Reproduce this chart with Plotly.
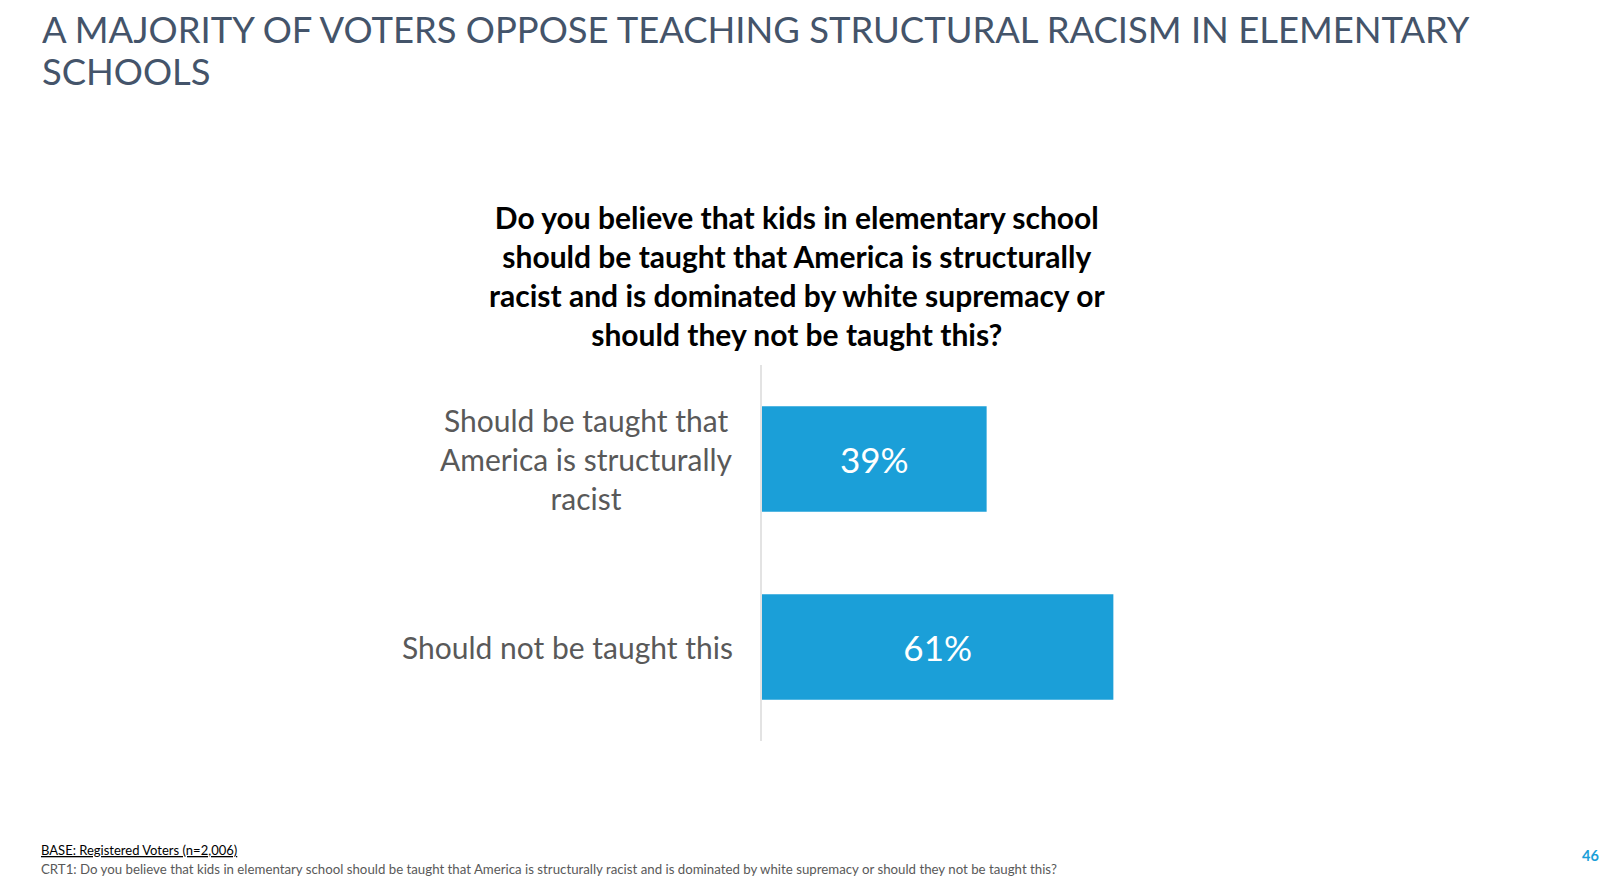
import plotly.graph_objects as go

categories = ["Should be taught that<br>America is structurally<br>racist", "Should not be taught this"]
values = [39, 61]
value_labels = ["39%", "61%"]

title_line1 = "A MAJORITY OF VOTERS OPPOSE TEACHING STRUCTURAL RACISM IN ELEMENTARY"
title_line2 = "SCHOOLS"
question_text = ("Do you believe that kids in elementary school<br>should be taught that America is structurally<br>"
                 "racist and is dominated by white supremacy or<br>should they not be taught this?")
base_text = "BASE: Registered Voters (n=2,006)"
crt_text = ("CRT1: Do you believe that kids in elementary school should be taught that America is structurally racist "
            "and is dominated by white supremacy or should they not be taught this?")
page_num = "46"

FONT = "Lato, 'Open Sans', sans-serif"
BAR = "#1B9FD8"

# page has an 8px body margin; figure fills the rest of the window
OFF = 8
W, H = 1614 - OFF, 882 - OFF


def fx(px):
    return (px - OFF) / W


def fy(py):
    return 1 - (py - OFF) / H


fig = go.Figure(go.Bar(
    y=categories, x=values, orientation="h",
    marker=dict(color=BAR, line=dict(width=0)),
    text=value_labels, textposition="inside", insidetextanchor="middle",
    textfont=dict(family=FONT, size=35, color="white"),
    hoverinfo="skip",
))

fig.update_layout(
    width=W, height=H,
    margin=dict(l=0, r=0, t=0, b=0),
    paper_bgcolor="white", plot_bgcolor="white",
    bargap=0.44, showlegend=False,
    font=dict(family=FONT),
    xaxis=dict(domain=[fx(762), fx(1338)], range=[0, 100], visible=False, fixedrange=True),
    yaxis=dict(domain=[fy(741), fy(365)], autorange="reversed", showticklabels=False, showgrid=False,
               showline=True, linecolor="#E3E3E3", linewidth=2, ticks="", zeroline=False),
)

for cat in categories:
    fig.add_annotation(x=fx(762), xref="paper", y=cat, yref="y", xanchor="right", yanchor="middle",
                       xshift=-27, text=cat, showarrow=False, align="center",
                       font=dict(family=FONT, size=30, color="#595959"))

fig.add_annotation(x=fx(40), y=fy(29), xref="paper", yref="paper", xanchor="left", yanchor="middle",
                   text=title_line1, showarrow=False, align="left", height=38, valign="middle",
                   font=dict(family=FONT, size=36.4, color="#44546A"))
fig.add_annotation(x=fx(40), y=fy(71.5), xref="paper", yref="paper", xanchor="left", yanchor="middle",
                   text=title_line2, showarrow=False, align="left", height=38, valign="middle",
                   font=dict(family=FONT, size=36.4, color="#44546A"))
fig.add_annotation(x=fx(797), y=fy(275), xref="paper", yref="paper", xanchor="center", yanchor="middle",
                   text="<b>" + question_text + "</b>", showarrow=False, align="center",
                   font=dict(family=FONT, size=30, color="black"))
fig.add_annotation(x=fx(39), y=fy(850), xref="paper", yref="paper", xanchor="left", yanchor="middle",
                   text="<u>" + base_text + "</u>", showarrow=False, align="left",
                   font=dict(family=FONT, size=13, color="black"))
fig.add_annotation(x=fx(39), y=fy(869), xref="paper", yref="paper", xanchor="left", yanchor="middle",
                   text=crt_text, showarrow=False, align="left",
                   font=dict(family=FONT, size=13.25, color="#595959"))
fig.add_annotation(x=fx(1601), y=fy(855), xref="paper", yref="paper", xanchor="right", yanchor="middle",
                   text="<b>" + page_num + "</b>", showarrow=False,
                   font=dict(family=FONT, size=14.5, color="#1B9FD8"))

fig.write_html("out.html")
